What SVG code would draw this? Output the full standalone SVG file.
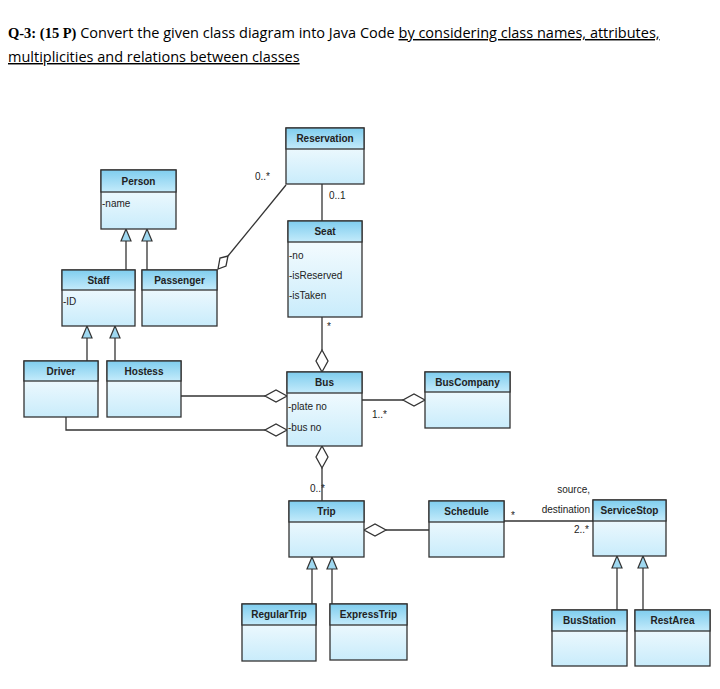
<svg xmlns="http://www.w3.org/2000/svg" width="720" height="689" viewBox="0 0 720 689">
<defs>
<linearGradient id="hg" x1="0" y1="0" x2="0" y2="1"><stop offset="0" stop-color="#7fcdee"/><stop offset="1" stop-color="#c4ebfb"/></linearGradient>
<linearGradient id="bg" x1="0" y1="0" x2="0" y2="1"><stop offset="0" stop-color="#ffffff"/><stop offset="1" stop-color="#c9ecfb"/></linearGradient>
<style>
.h{fill:url(#hg);stroke:#333;stroke-width:1.3}
.b{fill:url(#bg);stroke:#333;stroke-width:1.3}
.n{font-family:"Liberation Sans",Arial,sans-serif;font-size:10px;font-weight:bold;fill:#222;text-anchor:middle}
.a{font-family:"Liberation Sans",Arial,sans-serif;font-size:10px;fill:#222}
.l{fill:none;stroke:#333;stroke-width:1.3}
.d{fill:#fff;stroke:#333;stroke-width:1.3}
.t{fill:#9fd8f0;stroke:#333;stroke-width:1.2}
.ti{font-family:"Open Sans","Liberation Sans",sans-serif;font-size:14.5px;fill:#000}
</style>
</defs>
<text class="ti" x="8" y="38"><tspan font-family="'Liberation Serif',serif" font-weight="bold">Q-3: (15 P)</tspan> Convert the given class diagram into Java Code <tspan text-decoration="underline">by considering class names, attributes,</tspan></text>
<text class="ti" x="8" y="62" text-decoration="underline">multiplicities and relations between classes</text>

<g id="connectors">
<line class="l" x1="286" y1="185" x2="228" y2="256"/>
<polygon class="d" points="218,269 220,258 228,256 226,266"/>
<line class="l" x1="322" y1="184" x2="322" y2="221"/>
<line class="l" x1="126" y1="241" x2="126" y2="270"/>
<line class="l" x1="147" y1="241" x2="147" y2="270"/>
<polygon class="t" points="126,229 121,241 131,241"/>
<polygon class="t" points="147,229 142,241 152,241"/>
<line class="l" x1="87" y1="338" x2="87" y2="361"/>
<line class="l" x1="115" y1="338" x2="115" y2="361"/>
<polygon class="t" points="87,326 82,338 92,338"/>
<polygon class="t" points="115,326 110,338 120,338"/>
<line class="l" x1="322" y1="317" x2="322" y2="350"/>
<polygon class="d" points="322,372 316,361 322,350 328,361"/>
<line class="l" x1="181" y1="396" x2="265" y2="396"/>
<polygon class="d" points="287,396 276,390 265,396 276,402"/>
<polyline class="l" points="66,417 66,430 265,430"/>
<polygon class="d" points="287,430 276,424 265,430 276,436"/>
<line class="l" x1="362" y1="400" x2="403" y2="400"/>
<polygon class="d" points="425,400 414,394 403,400 414,406"/>
<polygon class="d" points="322,446 316,457 322,468 328,457"/>
<line class="l" x1="322" y1="468" x2="322" y2="501"/>
<polygon class="d" points="364,530 375,524 386,530 375,536"/>
<line class="l" x1="386" y1="530" x2="429" y2="530"/>
<line class="l" x1="504" y1="521" x2="593" y2="521"/>
<line class="l" x1="312" y1="569" x2="312" y2="604"/>
<line class="l" x1="332" y1="569" x2="332" y2="604"/>
<polygon class="t" points="312,557 307,569 317,569"/>
<polygon class="t" points="332,557 327,569 337,569"/>
<line class="l" x1="617" y1="568" x2="617" y2="610"/>
<line class="l" x1="643" y1="568" x2="643" y2="610"/>
<polygon class="t" points="617,556 612,568 622,568"/>
<polygon class="t" points="643,556 638,568 648,568"/>
<text class="a" x="255" y="180">0..*</text>
<text class="a" x="329" y="199">0..1</text>
<text class="a" x="327" y="330">*</text>
<text class="a" x="372" y="418">1..*</text>
<text class="a" x="310" y="492">0..*</text>
<text class="a" x="511" y="519">*</text>
<text class="a" x="590" y="493" text-anchor="end">source,</text>
<text class="a" x="590" y="513" text-anchor="end">destination</text>
<text class="a" x="589" y="533" text-anchor="end">2..*</text>
</g>

<g id="Reservation"><rect class="b" x="286" y="128" width="78" height="56"/><rect class="h" x="286" y="128" width="78" height="21"/><text class="n" x="325" y="142">Reservation</text></g>
<g id="Person"><rect class="b" x="101" y="170" width="75" height="59"/><rect class="h" x="101" y="170" width="75" height="22"/><text class="n" x="138.5" y="185">Person</text><text class="a" x="102" y="207">-name</text></g>
<g id="Seat"><rect class="b" x="288" y="221" width="74" height="96"/><rect class="h" x="288" y="221" width="74" height="21"/><text class="n" x="325" y="235">Seat</text><text class="a" x="289" y="259">-no</text><text class="a" x="289" y="279">-isReserved</text><text class="a" x="289" y="299">-isTaken</text></g>
<g id="Staff"><rect class="b" x="62" y="270" width="73" height="56"/><rect class="h" x="62" y="270" width="73" height="20"/><text class="n" x="98.5" y="284">Staff</text><text class="a" x="63" y="305">-ID</text></g>
<g id="Passenger"><rect class="b" x="142" y="270" width="75" height="56"/><rect class="h" x="142" y="270" width="75" height="20"/><text class="n" x="179.5" y="284">Passenger</text></g>
<g id="Driver"><rect class="b" x="24" y="361" width="74" height="56"/><rect class="h" x="24" y="361" width="74" height="20"/><text class="n" x="61" y="375">Driver</text></g>
<g id="Hostess"><rect class="b" x="107" y="361" width="74" height="56"/><rect class="h" x="107" y="361" width="74" height="20"/><text class="n" x="144" y="375">Hostess</text></g>
<g id="Bus"><rect class="b" x="287" y="372" width="75" height="74"/><rect class="h" x="287" y="372" width="75" height="21"/><text class="n" x="324.5" y="386">Bus</text><text class="a" x="288" y="410">-plate no</text><text class="a" x="288" y="431">-bus no</text></g>
<g id="BusCompany"><rect class="b" x="425" y="372" width="85" height="56"/><rect class="h" x="425" y="372" width="85" height="20"/><text class="n" x="467.5" y="386">BusCompany</text></g>
<g id="Trip"><rect class="b" x="289" y="501" width="75" height="56"/><rect class="h" x="289" y="501" width="75" height="21"/><text class="n" x="326.5" y="515">Trip</text></g>
<g id="Schedule"><rect class="b" x="429" y="501" width="75" height="56"/><rect class="h" x="429" y="501" width="75" height="21"/><text class="n" x="466.5" y="515">Schedule</text></g>
<g id="ServiceStop"><rect class="b" x="593" y="500" width="73" height="56"/><rect class="h" x="593" y="500" width="73" height="21"/><text class="n" x="629.5" y="514">ServiceStop</text></g>
<g id="RegularTrip"><rect class="b" x="242" y="604" width="74" height="57"/><rect class="h" x="242" y="604" width="74" height="21"/><text class="n" x="279" y="618">RegularTrip</text></g>
<g id="ExpressTrip"><rect class="b" x="330" y="604" width="77" height="56"/><rect class="h" x="330" y="604" width="77" height="21"/><text class="n" x="368.5" y="618">ExpressTrip</text></g>
<g id="BusStation"><rect class="b" x="552" y="610" width="75" height="56"/><rect class="h" x="552" y="610" width="75" height="21"/><text class="n" x="589.5" y="624">BusStation</text></g>
<g id="RestArea"><rect class="b" x="635" y="610" width="75" height="56"/><rect class="h" x="635" y="610" width="75" height="21"/><text class="n" x="672.5" y="624">RestArea</text></g>
</svg>
